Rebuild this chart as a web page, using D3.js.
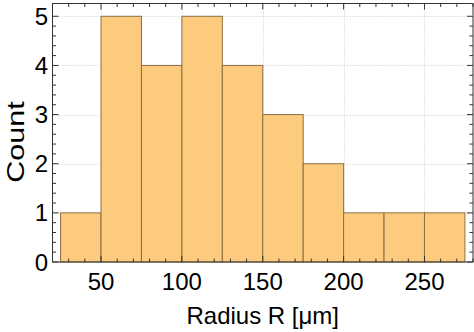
<!DOCTYPE html>
<html>
<head>
<meta charset="utf-8">
<script src="https://cdn.jsdelivr.net/npm/d3@7"></script>
<style>
  body { margin: 0; background: #fff; }
  svg text { font-family: "Liberation Sans", Arial, sans-serif; fill: #000; }
</style>
</head>
<body>
<div id="chart"></div>
<script>
// histogram bins (radius in um) and counts
var binStarts = [25, 50, 75, 100, 125, 150, 175, 200, 225, 250];
var binWidth = 25;
var counts = [1, 5, 4, 5, 4, 3, 2, 1, 1, 1];
var xTicks = [50, 100, 150, 200, 250];
var yTicks = [0, 1, 2, 3, 4, 5];

var width = 474;
var height = 332;
var plotLeft = 52.5, plotTop = 3.5, plotRight = 473, plotBottom = 262;

var svg = d3.select("#chart")
  .append("svg")
    .attr("width", width)
    .attr("height", height);

var x = d3.scaleLinear().domain([20, 280]).range([plotLeft, plotRight]);
var y = d3.scaleLinear().domain([0, 5.26]).range([plotBottom, plotTop]);

var xMinor = d3.range(20, 281, 10).filter(v => v % 50 !== 0);
var yMinor = d3.range(0, 5.2, 0.2).filter(v => Math.abs(v - Math.round(v)) > 0.01);

// grid
var grid = svg.append("g")
  .attr("stroke", "#c8c8c8")
  .attr("stroke-width", 1)
  .attr("stroke-dasharray", "1,2");
grid.selectAll(".gx").data(xTicks).enter().append("line")
  .attr("x1", d => Math.round(x(d)) + 0.5).attr("x2", d => Math.round(x(d)) + 0.5)
  .attr("y1", plotTop).attr("y2", plotBottom);
grid.selectAll(".gy").data(yTicks.slice(1)).enter().append("line")
  .attr("x1", plotLeft).attr("x2", plotRight)
  .attr("y1", d => Math.round(y(d)) + 0.5).attr("y2", d => Math.round(y(d)) + 0.5);

// bars
svg.append("g").selectAll("rect")
  .data(binStarts)
  .enter().append("rect")
    .attr("x", d => x(d))
    .attr("y", (d, i) => y(counts[i]))
    .attr("width", d => x(d + binWidth) - x(d))
    .attr("height", (d, i) => y(0) - y(counts[i]))
    .attr("fill", "#fdcb7e")
    .attr("stroke", "#8c6e40")
    .attr("stroke-width", 1);

// ticks on all four sides
var ticks = svg.append("g").attr("stroke", "#333").attr("stroke-width", 1);
function xTickMarks(vals, len) {
  ticks.selectAll(null).data(vals).enter().append("line")
    .attr("x1", d => x(d)).attr("x2", d => x(d))
    .attr("y1", plotBottom).attr("y2", plotBottom - len);
  ticks.selectAll(null).data(vals).enter().append("line")
    .attr("x1", d => x(d)).attr("x2", d => x(d))
    .attr("y1", plotTop).attr("y2", plotTop + len);
}
function yTickMarks(vals, len) {
  ticks.selectAll(null).data(vals).enter().append("line")
    .attr("x1", plotLeft).attr("x2", plotLeft + len)
    .attr("y1", d => y(d)).attr("y2", d => y(d));
  ticks.selectAll(null).data(vals).enter().append("line")
    .attr("x1", plotRight).attr("x2", plotRight - len)
    .attr("y1", d => y(d)).attr("y2", d => y(d));
}
xTickMarks(xTicks, 6);
xTickMarks(xMinor, 3.5);
yTickMarks(yTicks, 6);
yTickMarks(yMinor, 3.5);

// frame
svg.append("rect")
  .attr("x", plotLeft).attr("y", plotTop)
  .attr("width", plotRight - plotLeft).attr("height", plotBottom - plotTop)
  .attr("fill", "none").attr("stroke", "#333").attr("stroke-width", 1);

// tick labels
svg.append("g").selectAll("text")
  .data(xTicks).enter().append("text")
    .attr("x", d => x(d))
    .attr("y", 290)
    .attr("text-anchor", "middle")
    .attr("font-size", 24)
    .text(d => d);
svg.append("g").selectAll("text")
  .data(yTicks).enter().append("text")
    .attr("x", 48)
    .attr("y", d => y(d))
    .attr("dy", "0.36em")
    .attr("text-anchor", "end")
    .attr("font-size", 24)
    .text(d => d);

// axis titles
svg.append("text")
  .attr("x", (plotLeft + plotRight) / 2)
  .attr("y", 324)
  .attr("text-anchor", "middle")
  .attr("font-size", 24)
  .text("Radius R [μm]");
svg.append("text")
  .attr("transform", "translate(24,142) rotate(-90) scale(1.27,1)")
  .attr("text-anchor", "middle")
  .attr("font-size", 24)
  .text("Count");
</script>
</body>
</html>
